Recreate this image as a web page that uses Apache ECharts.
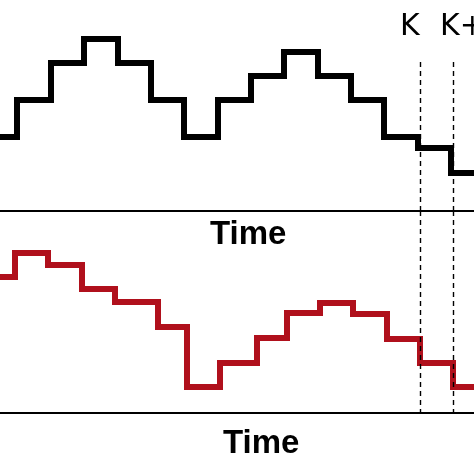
<!DOCTYPE html>
<html><head><meta charset="utf-8">
<script src="https://cdn.jsdelivr.net/npm/echarts@6/dist/echarts.min.js"></script>
<style>html,body{margin:0;padding:0;background:#fff}#c{width:474px;height:474px}</style>
</head><body><div id="c"></div>
<script>
// step start times and levels (arbitrary units)
var blackX = [0,17,51,84,118,151,184,218,251,284,318,351,384,418,451,474];
var blackY = [74,111,148,172,148,111,74,111,135,159,135,111,74,63,38,38];
var redX = [0,15,48,82,115,158,187,220,257,287,320,353,387,420,453,474];
var redY = [136,160,148,124,111,86,26,50,75,100,110,99,74,50,26,26];
var markTimes = [420,453];
var markLabels = ['K','K+1'];

function pts(xs, ys){ return xs.map(function(x,i){return [x, ys[i]];}); }
var chart = echarts.init(document.getElementById('c'));
var axisX = function(idx){ return {type:'value', gridIndex:idx, min:0, max:474, axisLine:{show:true,onZero:false,lineStyle:{color:'#000',width:2}}, axisTick:{show:false}, axisLabel:{show:false}, splitLine:{show:false}}; };
var axisY = function(idx,max){ return {type:'value', gridIndex:idx, min:0, max:max, show:false}; };
chart.setOption({
  animation:false,
  grid:[{left:0,right:0,top:0,height:211},{left:0,right:0,top:211,height:202}],
  xAxis:[axisX(0),axisX(1)],
  yAxis:[axisY(0,211),axisY(1,202)],
  series:[
    {type:'line', xAxisIndex:0, yAxisIndex:0, step:'end', symbol:'none', data:pts(blackX,blackY),
     lineStyle:{color:'#000',width:6,join:'miter'},
     markLine:{symbol:'none', silent:true, label:{show:false}, lineStyle:{color:'#000',type:[5,4],width:1.4},
       data: markTimes.map(function(t){return [{coord:[t,149]},{coord:[t,0]}];})}},
    {type:'line', xAxisIndex:1, yAxisIndex:1, step:'end', symbol:'none', data:pts(redX,redY),
     lineStyle:{color:'#b0101c',width:6,join:'miter'},
     markLine:{symbol:'none', silent:true, label:{show:false}, lineStyle:{color:'#000',type:[5,4],width:1.4},
       data: markTimes.map(function(t){return [{coord:[t,202]},{coord:[t,0]}];})}}
  ],
  graphic:[
    {type:'text', left:400, top:12, style:{text:markLabels[0], font:'30px "DejaVu Sans"', fill:'#000'}},
    {type:'text', left:440, top:12, style:{text:markLabels[1], font:'30px "DejaVu Sans"', fill:'#000'}},
    {type:'text', left:210, top:218, style:{text:'Time', font:'bold 33px "Liberation Sans"', fill:'#000'}},
    {type:'text', left:223, top:427, style:{text:'Time', font:'bold 33px "Liberation Sans"', fill:'#000'}}
  ]
});
</script></body></html>
